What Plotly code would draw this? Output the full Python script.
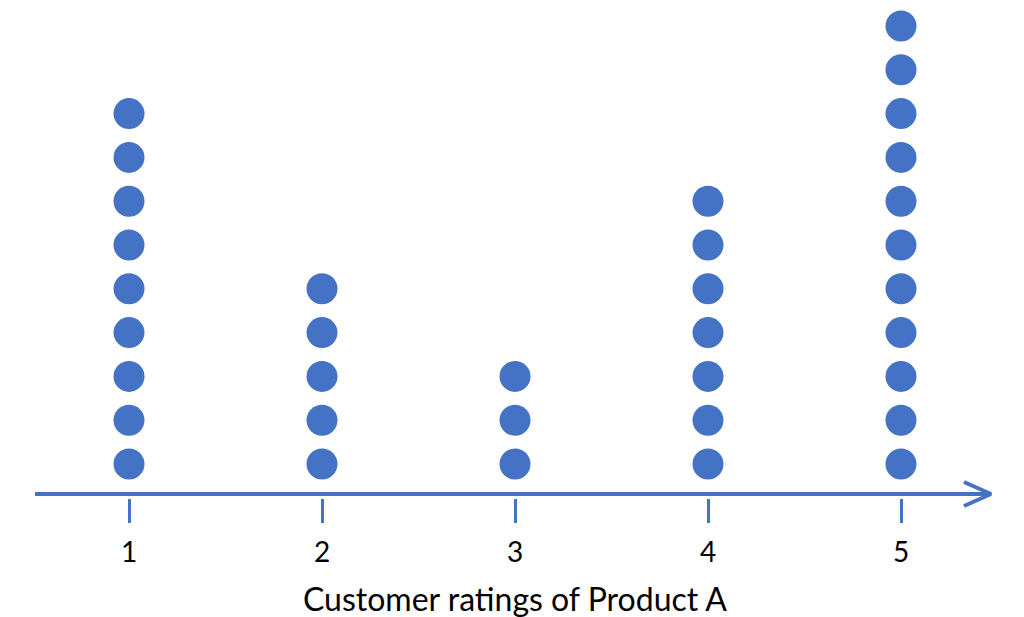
import plotly.graph_objects as go

ratings = [1, 2, 3, 4, 5]
counts = [9, 5, 3, 7, 11]
tick_labels = ["1", "2", "3", "4", "5"]
axis_title = "Customer ratings of Product A"

BLUE = "#4472C4"

xs, ys = [], []
for r, c in zip(ratings, counts):
    for k in range(1, c + 1):
        xs.append(r)
        ys.append(k)

W, H = 1024, 617
px_per_x = 193.0
x0 = 1 - 129 / px_per_x
xr = [x0, x0 + W / px_per_x]
px_per_y = 43.8
ytop = 1 + 464 / px_per_y
ybot = 1 - (H - 464) / px_per_y
yr = [ybot, ytop]

def py(pix):
    return 1 - (pix - 464) / px_per_y

def pxx(pix):
    return x0 + pix / px_per_x

fig = go.Figure()
fig.add_trace(go.Scatter(x=xs, y=ys, mode="markers",
                         marker=dict(size=31, color=BLUE, line=dict(width=0)),
                         hoverinfo="skip", showlegend=False))

# axis line with open arrowhead
fig.add_trace(go.Scatter(x=[pxx(35), pxx(990)], y=[py(494), py(494)], mode="lines",
                         line=dict(color=BLUE, width=4), hoverinfo="skip", showlegend=False))
fig.add_trace(go.Scatter(x=[pxx(964), pxx(991), pxx(964)], y=[py(482), py(494), py(506)],
                         mode="lines", line=dict(color=BLUE, width=4),
                         hoverinfo="skip", showlegend=False))

fig.update_layout(
    width=W, height=H,
    margin=dict(l=0, r=0, t=0, b=0),
    paper_bgcolor="white", plot_bgcolor="white",
    font=dict(family="Lato, Open Sans, sans-serif", color="black"),
    xaxis=dict(range=xr, tickvals=ratings, ticktext=tick_labels,
               showgrid=False, zeroline=False, showline=False,
               ticks="outside", ticklen=24, tickwidth=3, tickcolor=BLUE,
               tickfont=dict(size=28, color="black"), ticklabelstandoff=5,
               anchor="free", position=1 - 498 / H, fixedrange=True),
    yaxis=dict(range=yr, visible=False, fixedrange=True),
    annotations=[dict(text=axis_title, x=3, y=1 - 598 / H, xref="x", yref="paper",
                      showarrow=False, font=dict(size=32, color="black"),
                      xanchor="center", yanchor="middle")],
)

fig.write_html("out.html", config={"displayModeBar": False},
               post_script="document.body.style.margin='0';")
